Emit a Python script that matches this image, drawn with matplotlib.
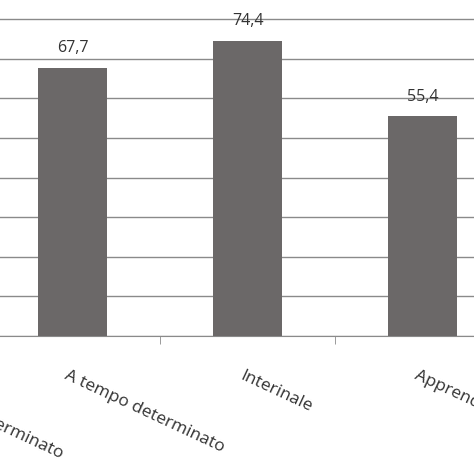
import matplotlib
matplotlib.use("Agg")
import matplotlib.pyplot as plt
import numpy as np

categories = ["A tempo indeterminato", "A tempo determinato", "Interinale", "Apprendistato"]
values = [np.nan, 67.7, 74.4, 55.4]
value_labels = ["", "67,7", "74,4", "55,4"]

plt.rcParams['font.family'] = ['Open Sans', 'DejaVu Sans']
fig = plt.figure(figsize=(4.74, 4.74), dpi=100)
ax = fig.add_axes([0, (474-336)/474, 1, 336/474])
x = np.arange(len(categories))
ax.bar(x, values, width=0.394, color="#6b6868", zorder=3)
for xi, v, lab in zip(x, values, value_labels):
    if not np.isnan(v):
        ax.text(xi, v + 3, lab, ha='center', va='bottom', fontsize=11.5, color="#333333")
ax.set_yticks(np.arange(0, 81, 10))
ax.yaxis.grid(True, color="#8a8a8a", linewidth=1, zorder=0)
ax.tick_params(axis='y', length=0, labelleft=False)
for s in ["top", "right", "left"]:
    ax.spines[s].set_visible(False)
ax.spines["bottom"].set_color("#8a8a8a")
ax.set_xticks(x)
ax.set_xticklabels([])
ax.tick_params(axis='x', which='major', length=0)
ax.set_xticks(x[:-1] + 0.5, minor=True)
ax.tick_params(axis='x', which='minor', length=6, color="#8a8a8a")
ax.set_xlim(0.586, 3.294)
ax.set_ylim(0, 84.8)
for xi, lab in zip(x, categories):
    ax.text(xi - 0.02, -8, lab, rotation=-25, rotation_mode='anchor', ha='left', va='top',
            fontsize=12.5, color="#333333", clip_on=False)
fig.savefig("out.png", dpi=100)
